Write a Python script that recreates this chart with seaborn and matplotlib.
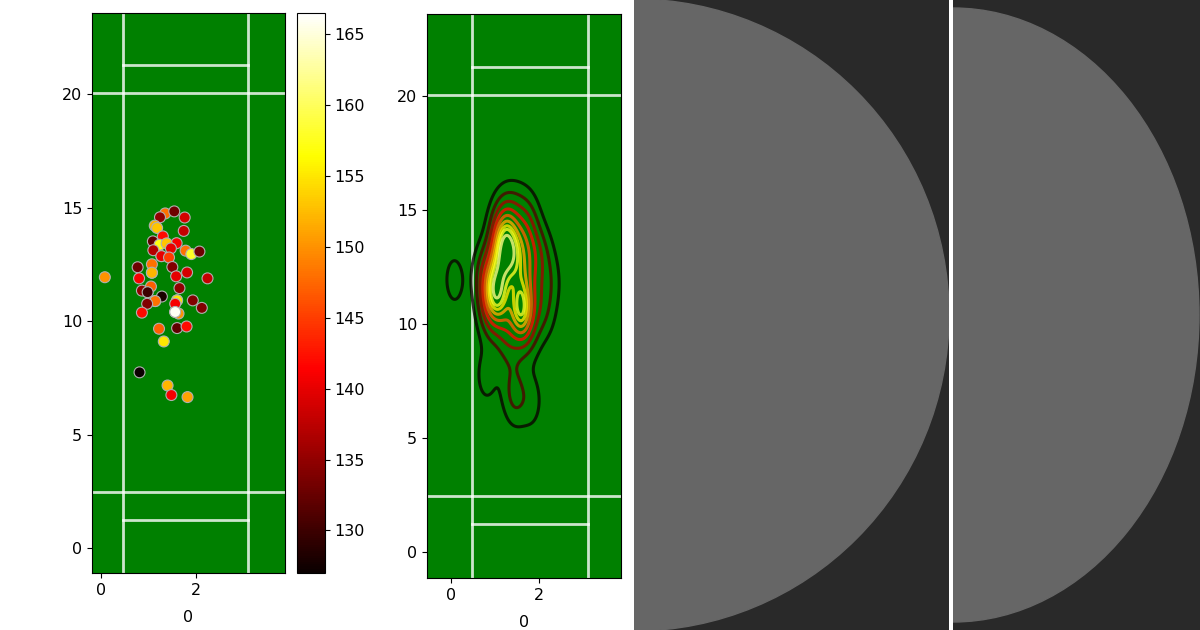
import matplotlib
matplotlib.use("Agg")
import matplotlib.pyplot as plt
from matplotlib.cm import ScalarMappable
from matplotlib.colors import Normalize
from matplotlib.patches import Ellipse
import pandas as pd
import seaborn as sns

# where each ball pitched, and its speed in km/h
# the first six sit exactly under later balls, they only show up in the density
pitch_x = [1.07, 0.98, 1.14, 1.27, 1.60, 1.56,
           0.08, 1.35, 1.54, 1.24, 1.76, 1.74, 1.13, 1.18, 1.30, 1.09, 1.23, 1.59,
           1.38, 1.47, 1.10, 1.27, 1.43, 1.78, 1.90, 2.07, 1.07, 1.07, 0.77, 1.50,
           1.81, 1.58, 0.80, 2.24, 1.65, 1.05, 0.86, 0.98, 1.28, 1.14, 1.93, 1.60,
           2.12, 0.97, 0.86, 1.56, 1.63, 1.56, 1.22, 1.60, 1.80, 1.32, 0.81, 1.40,
           1.48, 1.82]
pitch_y = [12.13, 11.27, 10.88, 12.86, 10.91, 10.4,
           11.93, 14.74, 14.83, 14.57, 14.56, 13.97, 14.2, 14.1, 13.73, 13.51, 13.36, 13.43,
           13.42, 13.2, 13.12, 12.86, 12.8, 13.1, 12.95, 13.06, 12.5, 12.13, 12.37, 12.38,
           12.14, 11.97, 11.88, 11.88, 11.45, 11.52, 11.34, 11.27, 11.08, 10.88, 10.91, 10.91,
           10.58, 10.76, 10.37, 10.76, 10.33, 10.4, 9.66, 9.69, 9.76, 9.1, 7.74, 7.16,
           6.74, 6.65]
speed = [152, 130, 148, 140, 155, 166,
         150, 148, 133, 135, 139, 138, 152, 153, 142, 132, 157, 141,
         153, 140, 137, 140, 145, 148, 158, 133, 148, 152, 133, 134,
         139, 140, 141, 138, 135, 147, 135, 130, 128, 148, 134, 155,
         134, 134, 142, 141, 150, 166, 147, 132, 142, 155, 127, 152,
         141, 151]

tick_x = [0, 2]
tick_y = [0, 5, 10, 15, 20]
crease_y = [2.47, 20.06]
stump_y = [1.25, 21.28]
return_x = [0.47, 3.1]

balls = pd.DataFrame({"x": pitch_x, "y": pitch_y, "speed": speed})
norm = Normalize(127, 166.5)


def draw_pitch(ax, xlim, ylim):
    ax.set_facecolor("green")
    for y in crease_y:
        ax.axhline(y, color="white", lw=2, alpha=0.8)
    for y in stump_y:
        ax.plot(return_x, [y, y], color="white", lw=2, alpha=0.8)
    for x in return_x:
        ax.axvline(x, color="white", lw=2, alpha=0.8)
    ax.set_xlim(xlim)
    ax.set_ylim(ylim)
    ax.set_xticks(tick_x)
    ax.set_yticks(tick_y)
    ax.set_xlabel("0", fontsize=11.5, labelpad=9)
    ax.set_ylabel("")
    ax.tick_params(labelsize=11.5)


def box(left, top, right, bottom):
    return [left / 1200, 1 - bottom / 630, (right - left) / 1200, (bottom - top) / 630]


fig = plt.figure(figsize=(12, 6.3), dpi=100)

ax1 = fig.add_axes(box(92, 13, 285, 573))
sns.scatterplot(data=balls, x="x", y="y", hue="speed", palette="hot", hue_norm=norm,
                s=62, edgecolor="#b0b0b0", linewidth=0.8, legend=False, ax=ax1, zorder=3)
draw_pitch(ax1, (-0.19, 3.87), (-1.1, 23.57))

cax = fig.add_axes(box(297, 13, 325, 573))
cb = fig.colorbar(ScalarMappable(norm=norm, cmap="hot"), cax=cax)
cb.set_ticks([130, 135, 140, 145, 150, 155, 160, 165])
cb.ax.tick_params(labelsize=11.5)

ax2 = fig.add_axes(box(427, 14, 621, 578))
sns.kdeplot(data=balls, x="x", y="y", cmap="hot", bw_adjust=0.92, linewidths=2.2,
            alpha=0.78, ax=ax2, zorder=3)
draw_pitch(ax2, (-0.545, 3.86), (-1.14, 23.6))

# the two dark panels with a half disc
for left, right, cy, w, h in [(634, 949, 315, 630, 632), (953, 1200, 315, 492, 614)]:
    ax = fig.add_axes(box(left, 0, right, 630))
    ax.set_facecolor("#292929")
    ax.add_patch(Ellipse((0, cy), w, h, color="#666666"))
    ax.set_xlim(0, right - left)
    ax.set_ylim(630, 0)
    ax.set_xticks([])
    ax.set_yticks([])
    sns.despine(ax=ax, left=True, bottom=True)

fig.savefig("out.png", dpi=100)
